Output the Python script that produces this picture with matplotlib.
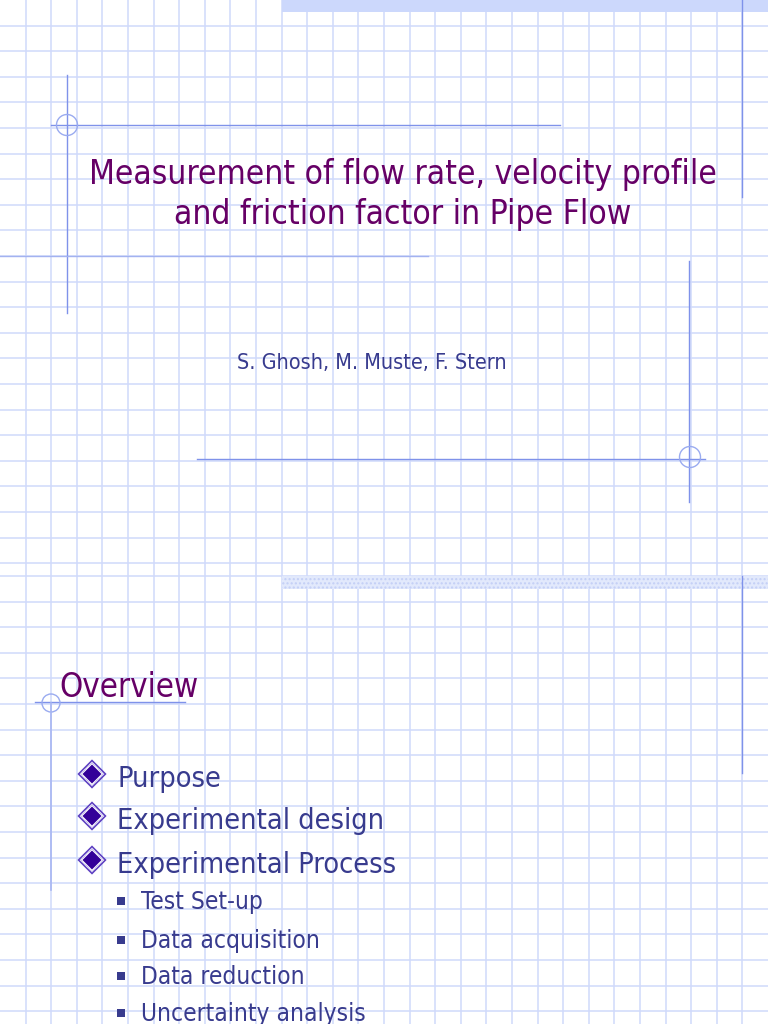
import matplotlib
matplotlib.use("Agg")
import matplotlib.pyplot as plt
from matplotlib.patches import Circle, Polygon, Rectangle

# slide texts
title_lines = ["Measurement of flow rate, velocity profile",
               "and friction factor in Pipe Flow"]
authors = "S. Ghosh, M. Muste, F. Stern"
heading = "Overview"
bullets = ["Purpose", "Experimental design", "Experimental Process"]
sub_bullets = ["Test Set-up", "Data acquisition", "Data reduction",
               "Uncertainty analysis"]

W, H = 768, 1024
SLIDE_H = 576
STEP = 25.6

purple = "#660066"
navy = "#383b8e"
grid_c = "#d0dafb"
line_c = "#7f92ea"
circ_c = "#9aabf0"

fig = plt.figure(figsize=(W / 100, H / 100), dpi=100)
ax = fig.add_axes([0, 0, 1, 1])
ax.set_xlim(0, W)
ax.set_ylim(H, 0)
ax.axis("off")

font = dict(family="DejaVu Sans", stretch="condensed")

# graph paper grid
for k in range(1, 30):
    ax.axvline(k * STEP, color=grid_c, lw=1.1, zorder=0)
for k in range(1, 23):
    ax.axhline(k * STEP, color=grid_c, lw=1.1, zorder=0)
for k in range(0, 18):
    ax.axhline(SLIDE_H + k * STEP, color=grid_c, lw=1.1, zorder=0)

# top bands
ax.add_patch(Rectangle((282, 0), W - 282, 12, color="#ccd8fc", lw=0, zorder=1))
ax.add_patch(Rectangle((282, SLIDE_H), W - 282, 13, facecolor="#e2e9fc",
                       edgecolor="#c3cff6", hatch="....", lw=0, zorder=1))
ax.plot([742, 742], [0, 197], color=line_c, lw=1.0, zorder=2)
ax.plot([742, 742], [SLIDE_H, SLIDE_H + 197], color=line_c, lw=1.0, zorder=2)

# slide 1 decorations
ax.plot([67, 67], [75, 313], color=line_c, lw=1.0, zorder=2)
ax.plot([51, 560], [125, 125], color=line_c, lw=1.0, zorder=2)
ax.add_patch(Circle((67, 125), 10.5, fill=False, ec=circ_c, lw=1.0, zorder=2))
ax.plot([0, 428], [256, 256], color="#a3b2f0", lw=1.0, zorder=2)
ax.plot([689, 689], [261, 502], color=line_c, lw=1.0, zorder=2)
ax.plot([197, 705], [459, 459], color=line_c, lw=1.0, zorder=2)
ax.add_patch(Circle((690, 457), 10.5, fill=False, ec=circ_c, lw=1.0, zorder=2))

# slide 1 text
ax.text(403, 184, title_lines[0], ha="center", va="baseline", color=purple,
        fontsize=24.0, **font)
ax.text(403, 224, title_lines[1], ha="center", va="baseline", color=purple,
        fontsize=24.0, **font)
ax.text(237, 369, authors, ha="left", va="baseline", color=navy,
        fontsize=15.5, **font)

# slide 2 decorations
ax.plot([35, 185], [702, 702], color=line_c, lw=1.0, zorder=2)
ax.add_patch(Circle((51, 703), 9, fill=False, ec=circ_c, lw=1.0, zorder=2))
ax.plot([51, 51], [703, 890], color="#a8b6f2", lw=1.2, zorder=2)

ax.text(59, 697, heading, ha="left", va="baseline", color=purple,
        fontsize=23.7, **font)


def diamond(cx, cy, r):
    return [(cx - r, cy), (cx, cy - r), (cx + r, cy), (cx, cy + r)]


bullet_y = [787, 829, 873]
for txt, y in zip(bullets, bullet_y):
    cx, cy = 92, y - 13
    ax.add_patch(Polygon(diamond(cx, cy, 13.5), closed=True, facecolor="white",
                         ec="#5a3cc0", lw=1.1, zorder=3))
    ax.add_patch(Polygon(diamond(cx, cy, 11.5), closed=True, fill=False,
                         ec="#8a78d6", lw=0.6, ls=(0, (1, 1)), zorder=3))
    ax.add_patch(Polygon(diamond(cx, cy, 9.5), closed=True, color="#330099",
                         lw=0, zorder=3))
    ax.text(117, y, txt, ha="left", va="baseline", color=navy,
            fontsize=20.7, **font)

sub_y = [909, 948, 984, 1021]
for txt, y in zip(sub_bullets, sub_y):
    ax.add_patch(Rectangle((117, y - 12), 8, 8, color=navy, lw=0, zorder=3))
    ax.text(141, y, txt, ha="left", va="baseline", color=navy,
            fontsize=17.6, **font)

fig.savefig("out.png", dpi=100, facecolor="white")
